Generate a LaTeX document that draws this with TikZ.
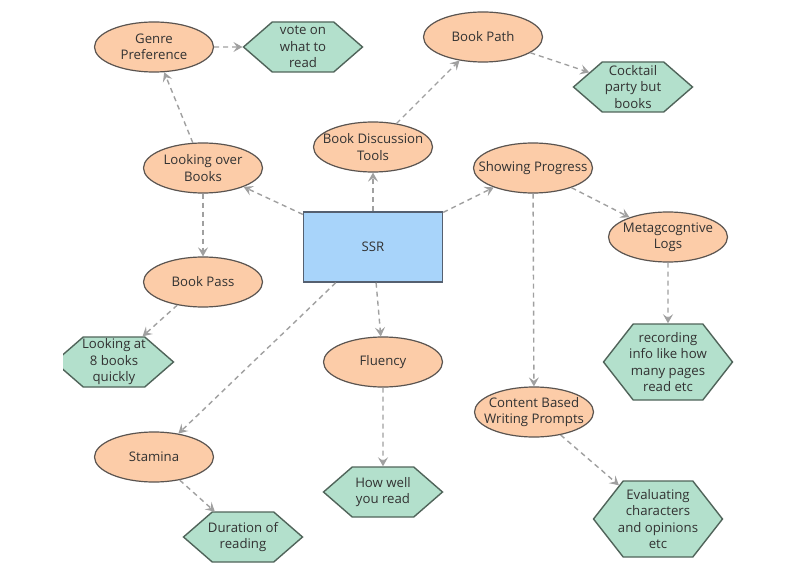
\documentclass[tikz,border=0pt]{standalone}
\usepackage{fontspec}
\setmainfont{Open Sans}
\usetikzlibrary{shapes.geometric,shapes.symbols,arrows.meta}
\definecolor{peach}{RGB}{252,204,168}
\definecolor{mint}{RGB}{179,224,204}
\definecolor{sky}{RGB}{168,212,250}
\definecolor{outl}{RGB}{90,84,80}
\definecolor{hexl}{RGB}{80,100,90}
\definecolor{boxl}{RGB}{85,96,112}
\definecolor{conn}{RGB}{160,160,160}
\definecolor{txt}{RGB}{50,50,50}
\tikzset{
  every node/.style={font=\fontsize{13.2}{16.5}\selectfont, text=txt, align=center},
  oval/.style={ellipse, draw=outl, fill=peach, line width=1.2pt, inner xsep=-22pt, inner ysep=-5pt, minimum width=119pt, minimum height=50pt},
  hexa/.style={signal, signal to=east and west, signal from=nowhere, signal pointer angle=82, draw=hexl, fill=mint, line width=1.4pt, inner xsep=-9pt, inner ysep=0pt, minimum width=119pt, minimum height=50pt},
  bighex/.style={hexa, minimum width=129pt, minimum height=76pt, signal pointer angle=104},
  mainbox/.style={rectangle, draw=boxl, fill=sky, line width=1.5pt, minimum width=139pt, minimum height=70pt, inner sep=0pt},
  link/.style={draw=conn, line width=1.4pt, dash pattern=on 5pt off 4pt, -{Stealth[length=9pt,width=10pt,inset=3.5pt]}}
}
\begin{document}
\begin{tikzpicture}[x=1pt,y=-1pt]
\useasboundingbox[fill=white] (0,0) rectangle (800,580);
% ovals
\node[oval] (genre) at (154,47) {Genre\\Preference};
\node[oval] (path) at (483,37) {Book Path};
\node[oval] (disc) at (373,147) {Book Discussion\\Tools};
\node[oval] (over) at (203,168) {Looking over\\Books};
\node[oval] (prog) at (533,168) {Showing Progress};
\node[oval] (meta) at (668,237) {Metagcogntive\\Logs};
\node[oval] (pass) at (203,282) {Book Pass};
\node[oval] (flu) at (383,362) {Fluency};
\node[oval] (cont) at (534,412) {Content Based\\Writing Prompts};
\node[oval] (stam) at (154,457) {Stamina};
% main
\node[mainbox] (ssr) at (373,247) {SSR};
% hexagons
\node[hexa] (vote) at (303,47) {vote on\\what to\\read};
\node[hexa] (cock) at (633,87) {Cocktail\\party but\\books};
\node[bighex] (rec) at (668,362) {recording\\info like how\\many pages\\read etc};
\begin{scope}
\clip (63,0) rectangle (800,580);
\node[hexa] (eight) at (114,362) {Looking at\\8 books\\quickly};
\end{scope}
\node[hexa] (well) at (383,492) {How well\\you read};
\node[hexa] (dur) at (243,537) {Duration of\\reading};
\node[bighex] (eval) at (658,519) {Evaluating\\characters\\and opinions\\etc};
% connectors
\draw[link] (over) -- (genre);
\draw[link] (genre) -- (vote);
\draw[link] (ssr) -- (over);
\draw[link] (ssr) -- (disc);
\draw[link] (disc) -- (path);
\draw[link] (path) -- (cock);
\draw[link] (ssr) -- (prog);
\draw[link] (prog) -- (meta);
\draw[link] (prog) -- (cont);
\draw[link] (meta) -- (rec);
\draw[link] (over) -- (pass);
\draw[link] (pass) -- (eight);
\draw[link] (ssr) -- (stam);
\draw[link] (ssr) -- (flu);
\draw[link] (flu) -- (well);
\draw[link] (stam) -- (dur);
\draw[link] (cont) -- (eval);
\end{tikzpicture}
\end{document}
